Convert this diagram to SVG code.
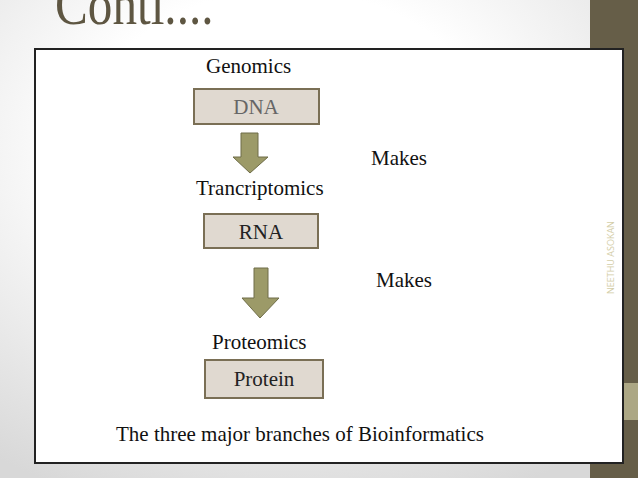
<svg xmlns="http://www.w3.org/2000/svg" width="638" height="478" viewBox="0 0 638 478">
<defs>
<radialGradient id="bg" cx="0.45" cy="0.3" r="0.8"><stop offset="0.4" stop-color="#ffffff"/><stop offset="1" stop-color="#d8d8d8"/></radialGradient>
<style>
.t{font-family:"Liberation Serif",serif;font-size:21px;fill:#111}
.b{fill:#e0d9d0;stroke:#7a6f55;stroke-width:2}
.bt{font-family:"Liberation Serif",serif;font-size:21px;fill:#222;text-anchor:middle}
.a{fill:#9c9a68;stroke:#6f6d48;stroke-width:1}
</style>
</defs>
<rect width="638" height="478" fill="url(#bg)"/>
<rect x="590" y="0" width="48" height="478" fill="#665e48"/>
<rect x="623" y="383" width="15" height="37" fill="#aca784"/>
<text x="55" y="24" font-family="Liberation Serif,serif" font-size="60" fill="#5e5642" transform="scale(0.82,1)" transform-origin="55 24">Conti....</text>
<rect x="35" y="49" width="588" height="414" fill="#fff" stroke="#222" stroke-width="2"/>
<text x="614" y="294" font-family="Open Sans,sans-serif" font-size="9" fill="#d4cea8" transform="rotate(-90 614 294)">NEETHU ASOKAN</text>
<g id="connectors">
<polygon class="a" points="241,133 258,133 258,157 268,157 250,173 233,157 241,157"/>
<polygon class="a" points="254,268 268,268 268,298 279,298 260,318 242,298 254,298"/>
</g>
<g id="genomics"><text class="t" x="206" y="73">Genomics</text></g>
<g id="dna"><rect class="b" x="194" y="89" width="125" height="35"/><text class="bt" x="256" y="114" style="fill:#666">DNA</text></g>
<g id="makes1"><text class="t" x="371" y="165">Makes</text></g>
<g id="trans"><text class="t" x="196" y="195">Trancriptomics</text></g>
<g id="rna"><rect class="b" x="204" y="214" width="114" height="34"/><text class="bt" x="261" y="239">RNA</text></g>
<g id="makes2"><text class="t" x="376" y="287">Makes</text></g>
<g id="prot"><text class="t" x="212" y="349">Proteomics</text></g>
<g id="protein"><rect class="b" x="205" y="360" width="118" height="38"/><text class="bt" x="264" y="386">Protein</text></g>
<g id="caption"><text class="t" x="116" y="441">The three major branches of Bioinformatics</text></g>
</svg>
